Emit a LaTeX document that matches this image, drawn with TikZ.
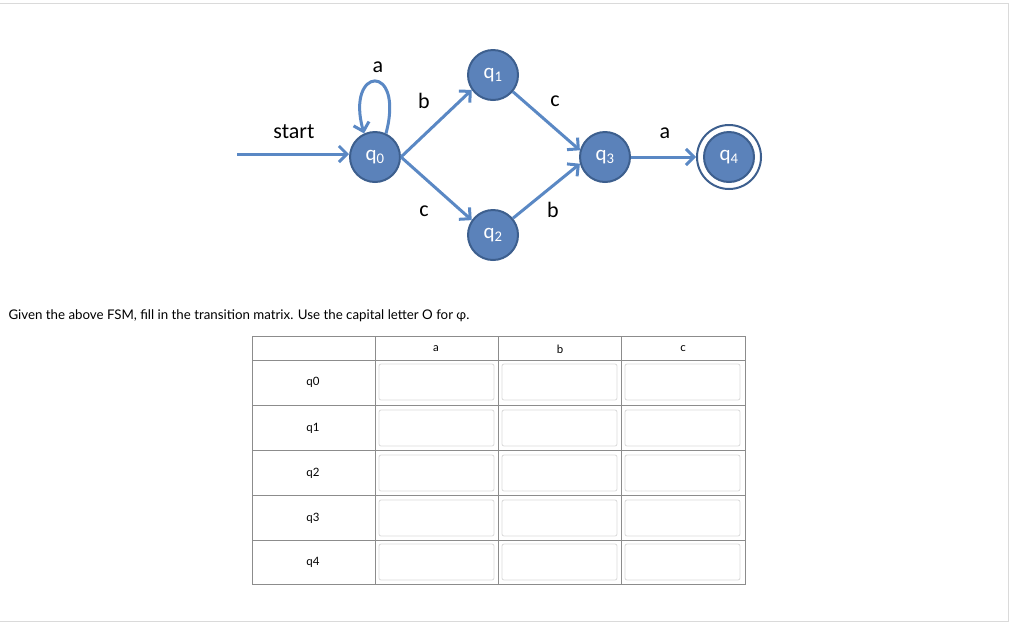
\documentclass[tikz,border=0pt]{standalone}
\usepackage{fontspec}
\setmainfont{Lato}
\newfontfamily\carlitofont{Carlito}
\usetikzlibrary{arrows.meta}
\definecolor{nodefill}{HTML}{5B82BA}
\definecolor{nodeedge}{HTML}{3D5F8E}
\definecolor{edgec}{HTML}{5A88C4}
\definecolor{grid}{HTML}{8C8C8C}
\definecolor{boxc}{HTML}{DADADA}
\tikzset{
 st/.style={circle,fill=nodefill,draw=nodeedge,line width=2pt,minimum size=50pt,inner sep=0pt,text=white,font=\carlitofont\fontsize{21}{21}\selectfont},
 tr/.style={draw=edgec,line width=3pt,-{Straight Barb[length=8pt,width=16pt,line width=3pt]}},
 lab/.style={font=\carlitofont\fontsize{22}{22}\selectfont},
 cell/.style={font=\fontsize{11.5}{11.5}\selectfont},
 inbox/.style={draw=boxc,rounded corners=2pt,line width=0.8pt}
}
\begin{document}
\begin{tikzpicture}[x=1pt,y=-1pt]
\useasboundingbox (0,0) rectangle (1024,633);
\draw[boxc,line width=1pt] (0,3) -- (1008,3) -- (1008,621) -- (0,621);
\node[st] (q0) at (375,157) {q\textsubscript{0}};
\node[st] (q1) at (493,75) {q\textsubscript{1}};
\node[st] (q2) at (493,235) {q\textsubscript{2}};
\node[st] (q3) at (605,157) {q\textsubscript{3}};
\node[circle,draw=nodeedge,fill=white,line width=2pt,minimum size=64pt] (q4o) at (729,157) {};
\node[st] (q4) at (729,157) {q\textsubscript{4}};
\coordinate (s) at (237,154);
\draw[tr] (s) -- (q0.west|-s);
\node[lab] (ls) at (294,132) {start};
\draw[tr] (q0.65) .. controls (405,62) and (345,66) .. (q0.115);
\node[lab] (la) at (378,67) {a};
\draw[tr] (q0.east) -- (q1.215);
\node[lab] (lb) at (424,101) {b};
\draw[tr] (q0.east) -- (q2.145);
\node[lab] (lc) at (424,211) {c};
\draw[tr] (q1.-40) -- (q3.165);
\node[lab] (lc2) at (555,101) {c};
\draw[tr] (q2.40) -- (q3.195);
\node[lab] (lb2) at (553,210) {b};
\draw[tr] (q3.east) -- (q4o.west);
\node[lab] (la2) at (665,133) {a};
\node[anchor=west,font=\fontsize{13.3}{13.3}\selectfont] (txt) at (5,316) {Given the above FSM, fill in the transition matrix. Use the capital letter O for φ.};
\draw[grid,line width=0.8pt] (252,336) rectangle (745,584);
\foreach \x in {375,498,621} \draw[grid,line width=0.8pt] (\x,336) -- (\x,584);
\foreach \y in {360,405,450,495,540} \draw[grid,line width=0.8pt] (252,\y) -- (745,\y);
\node[cell] (ha) at (436,349) {a};
\node[cell] (hb) at (560,349) {b};
\node[cell] (hc) at (683,349) {c};
\foreach \n/\y in {0/382,1/428,2/473,3/518,4/562}{
 \node[cell] (r\n) at (313,\y) {q\n};
 \foreach \x in {375,498,621} \draw[inbox] (\x+4,\y-18) rectangle (\x+119,\y+18);
}
\end{tikzpicture}
\end{document}
